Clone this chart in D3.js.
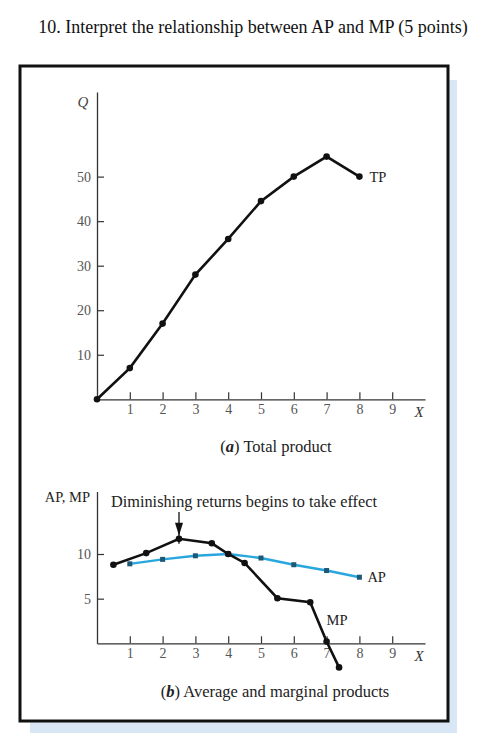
<!DOCTYPE html>
<html>
<head>
<meta charset="utf-8">
<script src="https://cdn.jsdelivr.net/npm/d3@7"></script>
<style>
  body { margin: 0; background: #fff; }
  svg text { font-family: "Liberation Serif", "Times New Roman", serif; }
</style>
</head>
<body>
<script>
// values
var tpX = [0, 1, 2, 3, 4, 5, 6, 7, 8];
var tpQ = [0, 7, 17, 28, 36, 44.5, 50, 54.5, 50];

var mpX = [0.5, 1.5, 2.5, 3.5, 4, 4.5, 5.5, 6.5, 7, 7.38];
var mpV = [8.8, 10.1, 11.7, 11.2, 10, 9.0, 5.05, 4.6, 0.2, -2.7];

var apX = [1, 2, 3, 4, 5, 6, 7, 8];
var apV = [8.9, 9.4, 9.8, 10, 9.55, 8.8, 8.15, 7.4];

var xTicks = [1, 2, 3, 4, 5, 6, 7, 8, 9];
var qTicks = [10, 20, 30, 40, 50];
var pTicks = [5, 10];

var svg = d3.select("body").append("svg")
    .attr("width", 492).attr("height", 751);

svg.append("text").attr("x", 253).attr("y", 33)
    .attr("text-anchor", "middle").style("font-size", "18px").attr("fill", "#111")
    .text("10. Interpret the relationship between AP and MP (5 points)");

// frame with light blue shadow
svg.append("rect").attr("x", 30).attr("y", 80).attr("width", 427).attr("height", 653)
    .attr("fill", "#d8e6f6");
svg.append("rect").attr("x", 20).attr("y", 66).attr("width", 428).attr("height", 655)
    .attr("fill", "#fff").attr("stroke", "#111").attr("stroke-width", 3);

var x = d3.scaleLinear().domain([0, 10]).range([97, 425]);

function styleAxis(g) {
    g.attr("font-size", null).attr("font-family", null);
    g.select(".domain").attr("stroke", "#333").attr("stroke-width", 1.3);
    g.selectAll(".tick line").attr("stroke", "#333").attr("stroke-width", 1.2);
    g.selectAll(".tick text")
        .style("font-family", "'Liberation Serif', serif")
        .style("font-size", "14px").attr("fill", "#555");
}

// ---- (a) total product
var yq = d3.scaleLinear().domain([0, 69]).range([399.3, 92]);

svg.append("g").attr("transform", "translate(0," + yq(0) + ")")
    .call(d3.axisBottom(x).tickValues(xTicks).tickSizeInner(-7).tickSizeOuter(0).tickPadding(5))
    .call(styleAxis);
svg.append("g").attr("transform", "translate(" + x(0) + ",0)")
    .call(d3.axisLeft(yq).tickValues(qTicks).tickSizeInner(-7).tickSizeOuter(0).tickPadding(6))
    .call(styleAxis);

svg.append("text").attr("x", 83).attr("y", 107).attr("text-anchor", "middle")
    .attr("font-style", "italic").style("font-size", "15px").attr("fill", "#444").text("Q");
svg.append("text").attr("x", 419).attr("y", 417).attr("text-anchor", "middle")
    .attr("font-style", "italic").style("font-size", "15px").attr("fill", "#333").text("X");

var tp = tpX.map(function(d, i) { return [d, tpQ[i]]; });
svg.append("path").datum(tp)
    .attr("d", d3.line().x(function(d) { return x(d[0]); }).y(function(d) { return yq(d[1]); }))
    .attr("fill", "none").attr("stroke", "#111").attr("stroke-width", 2.6);
svg.selectAll("circle.tp").data(tp).enter().append("circle").attr("class", "tp")
    .attr("cx", function(d) { return x(d[0]); }).attr("cy", function(d) { return yq(d[1]); })
    .attr("r", 3.3).attr("fill", "#111");

svg.append("text").attr("x", x(8) + 10).attr("y", yq(50) + 5)
    .style("font-size", "14.5px").attr("fill", "#222").text("TP");

var capA = svg.append("text").attr("x", 276).attr("y", 452).attr("text-anchor", "middle")
    .style("font-size", "16.5px").attr("fill", "#222");
capA.append("tspan").text("(");
capA.append("tspan").attr("font-style", "italic").attr("font-weight", "bold").text("a");
capA.append("tspan").text(") Total product");

// ---- (b) average and marginal products
var yp = d3.scaleLinear().domain([0, 17]).range([643.3, 491.5]);

svg.append("g").attr("transform", "translate(0," + yp(0) + ")")
    .call(d3.axisBottom(x).tickValues(xTicks).tickSizeInner(-7).tickSizeOuter(0).tickPadding(5))
    .call(styleAxis);
svg.append("g").attr("transform", "translate(" + x(0) + ",0)")
    .call(d3.axisLeft(yp).tickValues(pTicks).tickSizeInner(-7).tickSizeOuter(0).tickPadding(6))
    .call(styleAxis);

svg.append("text").attr("x", 90).attr("y", 502).attr("text-anchor", "end")
    .style("font-size", "14.5px").attr("fill", "#222").text("AP, MP");
svg.append("text").attr("x", 419).attr("y", 661).attr("text-anchor", "middle")
    .attr("font-style", "italic").style("font-size", "15px").attr("fill", "#333").text("X");

svg.append("text").attr("x", 111).attr("y", 507)
    .style("font-size", "16.3px").attr("fill", "#222").text("Diminishing returns begins to take effect");

var line = d3.line().x(function(d) { return x(d[0]); }).y(function(d) { return yp(d[1]); });

var ap = apX.map(function(d, i) { return [d, apV[i]]; });
var mp = mpX.map(function(d, i) { return [d, mpV[i]]; });

svg.append("path").datum(ap).attr("d", line)
    .attr("fill", "none").attr("stroke", "#2aa6df").attr("stroke-width", 2.4);
svg.selectAll("rect.ap").data(ap).enter().append("rect").attr("class", "ap")
    .attr("x", function(d) { return x(d[0]) - 2.5; }).attr("y", function(d) { return yp(d[1]) - 2.5; })
    .attr("width", 5).attr("height", 5).attr("fill", "#1d5877");

svg.append("path").datum(mp).attr("d", line)
    .attr("fill", "none").attr("stroke", "#111").attr("stroke-width", 2.6);
svg.selectAll("circle.mp").data(mp).enter().append("circle").attr("class", "mp")
    .attr("cx", function(d) { return x(d[0]); }).attr("cy", function(d) { return yp(d[1]); })
    .attr("r", 3.3).attr("fill", "#111");

// arrow to the MP peak
var peak = mp[2];
var ax = x(peak[0]), ay = yp(peak[1]);
svg.append("line").attr("x1", ax).attr("x2", ax).attr("y1", 512).attr("y2", ay + 5)
    .attr("stroke", "#111").attr("stroke-width", 1.3);
svg.append("path")
    .attr("d", "M" + (ax - 4) + "," + (ay - 16) + "L" + (ax + 4) + "," + (ay - 16) + "L" + ax + "," + (ay - 3) + "Z")
    .attr("fill", "#111");

svg.append("text").attr("x", x(8) + 8).attr("y", yp(7.4) + 5)
    .style("font-size", "14.5px").attr("fill", "#222").text("AP");
svg.append("text").attr("x", 337).attr("y", 625).attr("text-anchor", "middle")
    .style("font-size", "14.5px").attr("fill", "#222").text("MP");

var capB = svg.append("text").attr("x", 275).attr("y", 697).attr("text-anchor", "middle")
    .style("font-size", "16.5px").attr("fill", "#222");
capB.append("tspan").text("(");
capB.append("tspan").attr("font-style", "italic").attr("font-weight", "bold").text("b");
capB.append("tspan").text(") Average and marginal products");
</script>
</body>
</html>
